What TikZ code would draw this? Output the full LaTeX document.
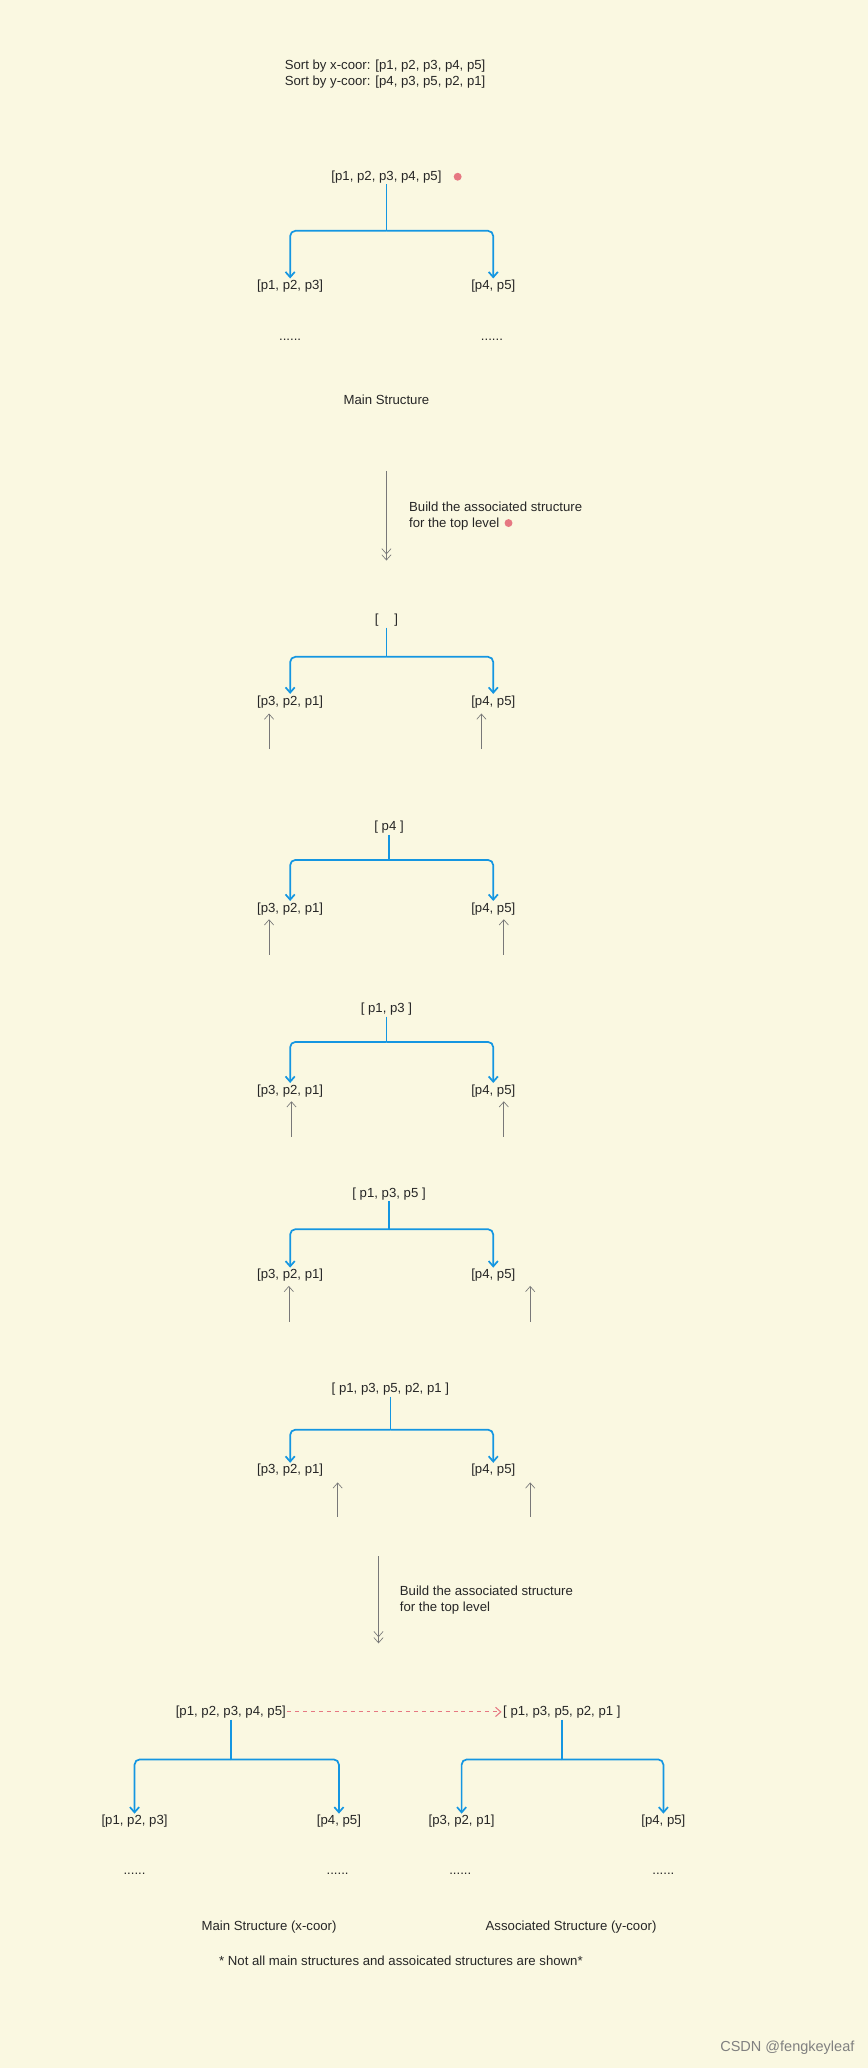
\documentclass[tikz,border=0pt]{standalone}
\usepackage{fontspec}
\setmainfont{Liberation Sans}
\usetikzlibrary{arrows.meta}
\definecolor{bg}{RGB}{250,248,225}
\definecolor{bl}{RGB}{20,150,225}
\definecolor{rd}{RGB}{230,120,130}
\definecolor{gr}{RGB}{120,120,120}
\tikzset{
  txt/.style={font=\fontsize{10}{12}\selectfont, text=black!85, inner sep=1pt},
  brl/.style={draw=bl, line width=1.3pt, rounded corners=4pt, -{Straight Barb[length=4pt,width=7pt]}},
  stem/.style={draw=bl, line width=1.3pt},
  up/.style={draw=gr, line width=0.5pt, -{Straight Barb[length=4pt,width=7pt]}},
  down/.style={draw=gr, line width=0.5pt, -{Straight Barb[length=4pt,width=7pt]Straight Barb[length=4pt,width=7pt]}},
  dot/.style={circle, fill=rd, inner sep=0pt, minimum size=6pt}
}
% name, x, ytext, ybracket, ychild, xl, xr, parent, left, right
\newcommand\mytree[9]{%
  \node[txt] (#1) at (#2,#3) {#8};
  \node[txt] (#1l) at (#6,#5) {#9};
  \mytreeb{#1}{#2}{#4}{#7}}
\newcommand\mytreeb[5]{%
  \node[txt] (#1r) at (#4,\ych) {#5};
  \draw[stem] (#1.south) -- (#2,#3) coordinate (#1m);
  \draw[brl] (#1m) -| (#1l.north);
  \draw[brl] (#1m) -| (#1r.north);}
\begin{document}
\begin{tikzpicture}[x=1pt,y=-1pt]
\fill[bg] (0,0) rectangle (658,1568);
\useasboundingbox (0,0) rectangle (658,1568);
\node[txt, align=left] (hdr) at (292,56) {Sort by x-coor: [p1, p2, p3, p4, p5]\\Sort by y-coor: [p4, p3, p5, p2, p1]};
% tree1
\def\ych{217}
\mytree{a}{293}{134}{175}{217}{220}{374}{[p1, p2, p3, p4, p5]}{[p1, p2, p3]}{[p4, p5]}
\node[dot] (ad) at (347,134) {};
\node[txt] (ad1) at (220,258) {......};
\node[txt] (ad2) at (373,258) {......};
\node[txt] (ms) at (293,303) {Main Structure};
\coordinate (s1) at (293,357); \coordinate (e1) at (293,425);
\draw[down] (s1) -- (e1);
\node[txt, align=left, anchor=west] (b1) at (309,391) {Build the associated structure\\for the top level\hspace{4pt}\tikz\fill[rd] circle (3pt);};
% tree2
\def\ych{532}
\mytree{b}{293}{470}{498}{532}{220}{374}{[\hspace{12pt}]}{[p3, p2, p1]}{[p4, p5]}
\coordinate (bu1) at (204,568); \coordinate (bu2) at (365,568);
\draw[up] (bu1) -- ++(0,-27); \draw[up] (bu2) -- ++(0,-27);
% tree3
\def\ych{689}
\mytree{c}{295}{627}{652}{689}{220}{374}{[ p4 ]}{[p3, p2, p1]}{[p4, p5]}
\coordinate (cu1) at (204,724); \coordinate (cu2) at (382,724);
\draw[up] (cu1) -- ++(0,-27); \draw[up] (cu2) -- ++(0,-27);
% tree4
\def\ych{827}
\mytree{d}{293}{765}{790}{827}{220}{374}{[ p1, p3 ]}{[p3, p2, p1]}{[p4, p5]}
\coordinate (du1) at (221,862); \coordinate (du2) at (382,862);
\draw[up] (du1) -- ++(0,-27); \draw[up] (du2) -- ++(0,-27);
% tree5
\def\ych{967}
\mytree{e}{295}{905}{932}{967}{220}{374}{[ p1, p3, p5 ]}{[p3, p2, p1]}{[p4, p5]}
\coordinate (eu1) at (219,1002); \coordinate (eu2) at (402,1002);
\draw[up] (eu1) -- ++(0,-27); \draw[up] (eu2) -- ++(0,-27);
% tree6
\def\ych{1115}
\mytree{f}{296}{1053}{1084}{1115}{220}{374}{[ p1, p3, p5, p2, p1 ]}{[p3, p2, p1]}{[p4, p5]}
\coordinate (fu1) at (256,1150); \coordinate (fu2) at (402,1150);
\draw[up] (fu1) -- ++(0,-26); \draw[up] (fu2) -- ++(0,-26);
\coordinate (s2) at (287,1180); \coordinate (e2) at (287,1246);
\draw[down] (s2) -- (e2);
\node[txt, align=left, anchor=west] (b2) at (302,1213) {Build the associated structure\\for the top level};
% final
\def\ych{1381}
\mytree{g}{175}{1298}{1334}{1381}{102}{257}{[p1, p2, p3, p4, p5]}{[p1, p2, p3]}{[p4, p5]}
\mytree{h}{426}{1298}{1334}{1381}{350}{503}{[ p1, p3, p5, p2, p1 ]}{[p3, p2, p1]}{[p4, p5]}
\draw[draw=rd, dashed, line width=0.8pt, -{Straight Barb[length=4pt,width=7pt]}] (g.east) -- (h.west);
\node[txt] (gd1) at (102,1421) {......};
\node[txt] (gd2) at (256,1421) {......};
\node[txt] (hd1) at (349,1421) {......};
\node[txt] (hd2) at (503,1421) {......};
\node[txt] (l1) at (204,1461) {Main Structure (x-coor)};
\node[txt] (l2) at (433,1461) {Associated Structure (y-coor)};
\node[txt] (note) at (304,1487) {* Not all main structures and assoicated structures are shown*};
\node[txt, text=gray, font=\fontsize{11}{13}\selectfont] (wm) at (597,1553) {CSDN @fengkeyleaf};
\end{tikzpicture}
\end{document}
